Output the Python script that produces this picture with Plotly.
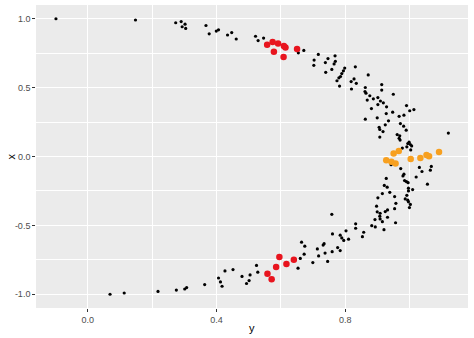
import plotly.graph_objects as go

# black points (y on horizontal axis, x on vertical axis)
black_y = [-0.099, 0.148, 0.273, 0.290, 0.302, 0.293, 0.304, 0.367, 0.377, 0.399, 0.406, 0.434, 0.447, 0.461,
           0.521, 0.529, 0.546, 0.654, 0.671, 0.716, 0.703, 0.702, 0.746, 0.738, 0.768, 0.769, 0.765, 0.758,
           0.739, 0.798, 0.794, 0.789, 0.785, 0.780, 0.774, 0.782, 0.831, 0.871, 0.827, 0.818, 0.834, 0.819,
           0.862, 0.861, 0.864, 0.913, 0.913, 0.949, 0.876, 0.887, 0.868, 0.901, 0.909, 0.918, 0.901, 0.928,
           0.881, 0.947, 0.927, 0.899, 0.862, 0.934, 0.967, 0.982, 0.990, 1.000, 1.013, 0.971, 0.981, 0.989,
           0.924, 0.905, 0.907, 0.917, 0.907, 0.961, 0.969, 0.967, 0.970, 0.998, 0.994, 1.002, 1.006, 0.991,
           0.977, 1.003, 1.120,
           0.942, 0.972, 1.067, 1.030, 1.038, 1.064, 0.979, 0.982, 1.020, 0.927, 0.984, 0.990, 0.995, 1.055,
           0.921, 0.930, 0.938, 0.915, 0.901, 0.953, 0.996, 1.009, 0.996, 0.991, 0.986, 0.994, 0.996, 1.002,
           0.999, 0.957, 0.953, 0.897, 0.899, 0.908, 0.924, 0.931, 0.907, 0.892, 0.908, 0.915, 0.931, 0.956,
           0.882, 0.893, 0.920, 0.758, 0.832, 0.832, 0.857, 0.853, 0.802, 0.784, 0.789, 0.795, 0.810, 0.760,
           0.734, 0.731, 0.713, 0.717, 0.737, 0.759, 0.776, 0.784, 0.745, 0.699, 0.664, 0.674, 0.672, 0.660,
           0.653, 0.524, 0.528, 0.504, 0.501, 0.493, 0.479, 0.451, 0.426, 0.406, 0.412, 0.417, 0.363, 0.307,
           0.301, 0.275, 0.218, 0.113, 0.069]
black_x = [1.000, 0.991, 0.971, 0.980, 0.961, 0.942, 0.930, 0.951, 0.891, 0.911, 0.920, 0.882, 0.900, 0.853,
           0.873, 0.842, 0.860, 0.753, 0.770, 0.741, 0.700, 0.662, 0.711, 0.682, 0.731, 0.691, 0.672, 0.632,
           0.611, 0.642, 0.622, 0.602, 0.581, 0.571, 0.550, 0.511, 0.651, 0.592, 0.563, 0.544, 0.531, 0.490,
           0.501, 0.472, 0.460, 0.522, 0.482, 0.452, 0.441, 0.419, 0.410, 0.428, 0.403, 0.390, 0.377, 0.361,
           0.348, 0.322, 0.312, 0.281, 0.271, 0.259, 0.292, 0.300, 0.370, 0.332, 0.341, 0.239, 0.220, 0.191,
           0.230, 0.212, 0.196, 0.181, 0.141, 0.159, 0.150, 0.132, 0.119, 0.104, 0.094, 0.087, 0.077, 0.070,
           0.061, 0.048, 0.170,
           -0.059, -0.088, -0.072, -0.079, -0.109, -0.099, -0.141, -0.128, -0.149, -0.159, -0.175, -0.183,
           -0.190, -0.201, -0.210, -0.223, -0.260, -0.269, -0.300, -0.291, -0.230, -0.240, -0.250, -0.282,
           -0.308, -0.317, -0.329, -0.348, -0.371, -0.340, -0.379, -0.361, -0.402, -0.412, -0.400, -0.388,
           -0.433, -0.458, -0.453, -0.473, -0.441, -0.481, -0.502, -0.511, -0.531, -0.420, -0.489, -0.521,
           -0.550, -0.582, -0.540, -0.571, -0.591, -0.609, -0.600, -0.562, -0.633, -0.643, -0.671, -0.722,
           -0.701, -0.691, -0.661, -0.683, -0.762, -0.770, -0.622, -0.651, -0.709, -0.740, -0.811, -0.791,
           -0.840, -0.860, -0.901, -0.922, -0.871, -0.821, -0.831, -0.882, -0.911, -0.942, -0.930, -0.952,
           -0.962, -0.970, -0.980, -0.991, -1.000]

red_y = [0.557, 0.574, 0.591, 0.609, 0.614, 0.578, 0.608, 0.650,
         0.595, 0.640, 0.617, 0.585, 0.558, 0.571]
red_x = [0.811, 0.831, 0.821, 0.802, 0.791, 0.760, 0.722, 0.780,
         -0.730, -0.749, -0.780, -0.802, -0.851, -0.891]

orange_y = [0.950, 0.966, 0.927, 0.943, 0.956, 1.003, 1.033, 1.052, 1.060, 1.091]
orange_x = [0.021, 0.040, -0.028, -0.039, -0.051, -0.019, -0.010, 0.010, 0.001, 0.032]

x_ticks = [0.0, 0.4, 0.8]
x_ticklabels = ["0.0", "0.4", "0.8"]
y_ticks = [-1.0, -0.5, 0.0, 0.5, 1.0]
y_ticklabels = ["-1.0", "-0.5", "0.0", "0.5", "1.0"]

FONT = "Liberation Sans, Arial, sans-serif"

fig = go.Figure()
fig.add_trace(go.Scatter(x=black_y, y=black_x, mode="markers",
                         marker=dict(color="black", size=3.2, line=dict(width=0)), hoverinfo="skip"))
fig.add_trace(go.Scatter(x=red_y, y=red_x, mode="markers",
                         marker=dict(color="#E8141E", size=6.5, line=dict(width=0)), hoverinfo="skip"))
fig.add_trace(go.Scatter(x=orange_y, y=orange_x, mode="markers",
                         marker=dict(color="#F7A020", size=6.5, line=dict(width=0)), hoverinfo="skip"))

axis_common = dict(
    showline=False, zeroline=False, showgrid=True, gridcolor="white", gridwidth=1.3,
    ticks="outside", ticklen=2.8, tickwidth=1.1, tickcolor="#333333", automargin=False,
    tickfont=dict(family=FONT, size=9, color="#4D4D4D"),
)

fig.update_xaxes(range=[-0.161, 1.181], tickmode="array", tickvals=x_ticks, ticktext=x_ticklabels,
                 minor=dict(tickmode="array", tickvals=[0.2, 0.6, 1.0], showgrid=True,
                            gridcolor="white", gridwidth=0.65, ticks=""),
                 **axis_common)
fig.update_yaxes(range=[-1.1, 1.1], tickmode="array", tickvals=y_ticks, ticktext=y_ticklabels,
                 minor=dict(tickmode="array", tickvals=[-0.75, -0.25, 0.25, 0.75], showgrid=True,
                            gridcolor="white", gridwidth=0.65, ticks=""),
                 **axis_common)

fig.add_annotation(text="y", xref="paper", yref="paper", x=0.5, y=0, yshift=-20,
                   xanchor="center", yanchor="middle", showarrow=False,
                   font=dict(family=FONT, size=11, color="black"))
fig.add_annotation(text="x", xref="paper", yref="paper", x=0, y=0.5, xshift=-26,
                   xanchor="center", yanchor="middle", textangle=-90, showarrow=False,
                   font=dict(family=FONT, size=11, color="black"))

fig.update_layout(
    width=474, height=338,
    margin=dict(l=36, r=6, t=5, b=30, pad=0),
    plot_bgcolor="#EBEBEB", paper_bgcolor="white",
    showlegend=False,
)

fig.write_html("out.html")
